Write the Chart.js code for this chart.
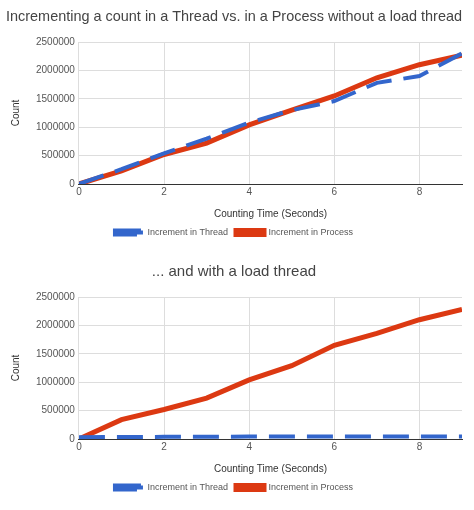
<!DOCTYPE html>
<html><head>
<script src="https://cdn.jsdelivr.net/npm/chart.js@4"></script>
<style>
body{margin:0;background:#fff;font-family:Roboto,sans-serif}
.box{width:474px;height:255px;position:relative}
</style>
</head><body>
<div class="box"><canvas id="c1"></canvas></div>
<div class="box"><canvas id="c2"></canvas></div>
<script>
const seconds = [0, 1, 2, 3, 4, 5, 6, 7, 8, 9];
const threadNoLoad = [0, 260000, 540000, 800000, 1080000, 1300000, 1460000, 1780000, 1900000, 2300000];
const processNoLoad = [0, 230000, 520000, 720000, 1040000, 1300000, 1550000, 1870000, 2100000, 2270000];
const threadLoad = [30000, 35000, 38000, 40000, 42000, 42000, 43000, 43000, 44000, 45000];
const processLoad = [0, 340000, 520000, 720000, 1040000, 1290000, 1650000, 1860000, 2100000, 2280000];
const yTicks = [0, 500000, 1000000, 1500000, 2000000, 2500000];

function makeChart(id, title, thread, process) {
  new Chart(document.getElementById(id), {
    type: "line",
    data: {
      datasets: [
        {
          label: "Increment in Thread",
          data: seconds.map((s, i) => ({ x: s, y: thread[i] })),
          borderColor: "#3366cc", backgroundColor: "#3366cc",
          borderWidth: 4, borderDash: [26, 12], pointRadius: 0, tension: 0,
        },
        {
          label: "Increment in Process",
          data: seconds.map((s, i) => ({ x: s, y: process[i] })),
          borderColor: "#dc3912", backgroundColor: "#dc3912",
          borderWidth: 5, pointRadius: 0, tension: 0,
        },
      ],
    },
    options: {
      responsive: true, maintainAspectRatio: false, animation: false,
      layout: { padding: { left: 6, right: 12, top: 0, bottom: 8 } },
      scales: {
        x: {
          type: "linear", min: 0, max: 9,
          afterBuildTicks: (a) => { a.ticks = [0, 2, 4, 6, 8].map(v => ({ value: v })); },
          ticks: { color: "#555", font: { size: 10 }, maxRotation: 0, padding: 2 },
          grid: { color: "#ddd", drawTicks: false },
          border: { color: "#333" },
          title: { display: true, text: "Counting Time (Seconds)", color: "#333", font: { size: 10 }, padding: { top: 8, bottom: 0 } },
        },
        y: {
          min: 0, max: 2500000,
          afterBuildTicks: (a) => { a.ticks = yTicks.map(v => ({ value: v })); },
          ticks: { color: "#555", font: { size: 10 }, callback: (v) => String(v), padding: 4 },
          grid: { color: "#ddd", drawTicks: false },
          border: { display: false },
          title: { display: true, text: "Count", color: "#333", font: { size: 10 }, padding: { bottom: 10 } },
        },
      },
      plugins: {
        title: { display: true, text: title, color: "#444", font: { size: 15, weight: "normal" }, padding: { top: 8, bottom: 16 } },
        legend: {
          position: "bottom",
          labels: { color: "#555", font: { size: 9 }, boxWidth: 28, boxHeight: 4, padding: 8 },
        },
        tooltip: { enabled: false },
      },
    },
  });
}

makeChart("c1", "Incrementing a count in a Thread vs. in a Process without a load thread", threadNoLoad, processNoLoad);
makeChart("c2", "... and with a load thread", threadLoad, processLoad);
</script>
</body></html>
